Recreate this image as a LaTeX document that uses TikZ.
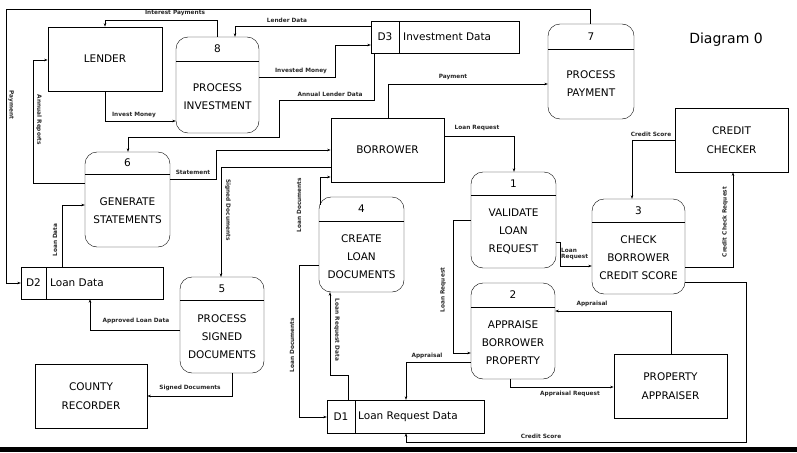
\documentclass[tikz,border=0pt]{standalone}
\usepackage{fontspec}
\setmainfont{DejaVu Sans}
\usetikzlibrary{arrows.meta}
\begin{document}
\begin{tikzpicture}[x=1pt,y=-1pt,
  ent/.style={draw,line width=0.8pt,fill=white,inner sep=0pt,align=center,font=\fontsize{10.5}{19}\selectfont},
  box/.style={draw,rectangle,inner sep=0pt},
  proc/.style={draw,rounded corners=12pt,inner sep=0pt},
  ptxt/.style={align=center,font=\fontsize{10.5}{18}\selectfont,inner sep=0pt},
  fl/.style={draw,line width=0.5pt,-{Stealth[length=3.5pt,width=2.5pt]}},
  lb/.style={font=\fontsize{5.8}{6.8}\selectfont\bfseries,inner sep=1pt,text=black!85}]
\useasboundingbox (0,0) rectangle (797,452);
\fill[black] (0,447) rectangle (797,452);
\newcommand\mkproc[8]{%
 \node[proc,minimum width={#4-#2},minimum height={#5-#3}] (#1) at ({(#2+#4)/2},{(#3+#5)/2}) {};
 \draw (#2,#6) -- (#4,#6);
 \node[ptxt] at ({(#2+#4)/2},{(#3+#6)/2}) {#7};
 \node[ptxt] at ({(#2+#4)/2},{(#6+#5)/2}) {#8};}
\newcommand\mkstore[7]{%
 \node[box,minimum width={#4-#2},minimum height={#5-#3}] (#1) at ({(#2+#4)/2},{(#3+#5)/2}) {};
 \draw (#6,#3) -- (#6,#5);
 \node[ptxt,anchor=center] at ({(#2+#6)/2},{(#3+#5)/2}) {\fontsize{10.5}{12}\selectfont D#7};}
% entities
\node[ent,minimum width=114,minimum height=64] (lender) at (105,59) {LENDER};
\node[ent,minimum width=113,minimum height=64] (borrower) at (387.5,150) {BORROWER};
\node[ent,minimum width=113,minimum height=64] (cc) at (731.5,140) {CREDIT\\CHECKER};
\node[ent,minimum width=112,minimum height=64] (county) at (91,396) {COUNTY\\RECORDER};
\node[ent,minimum width=113,minimum height=64] (pa) at (670.5,386) {PROPERTY\\APPRAISER};
\node[font=\fontsize{14}{16}\selectfont] (title) at (726,40) {Diagram 0};
% processes
\mkproc{p8}{176}{37}{259}{133}{61}{8}{PROCESS\\INVESTMENT}
\mkproc{p7}{548}{24}{634}{119}{49}{7}{PROCESS\\PAYMENT}
\mkproc{p6}{85}{152}{170}{247}{174}{6}{GENERATE\\STATEMENTS}
\mkproc{p1}{471}{172}{556}{268}{195}{1}{VALIDATE\\LOAN\\REQUEST}
\mkproc{p3}{592}{199}{685}{294}{222}{3}{CHECK\\BORROWER\\CREDIT SCORE}
\mkproc{p4}{319}{197}{404}{292}{221}{4}{CREATE\\LOAN\\DOCUMENTS}
\mkproc{p5}{180}{277}{264}{373}{300}{5}{PROCESS\\SIGNED\\DOCUMENTS}
\mkproc{p2}{471}{283}{555}{379}{307}{2}{APPRAISE\\BORROWER\\PROPERTY}
% stores
\mkstore{d3}{371}{21}{519}{53}{399}{3}
\node[ptxt,anchor=west] (d3t) at (403,37) {Investment Data};
\mkstore{d2}{21}{267}{163}{299}{46}{2}
\node[ptxt,anchor=west] (d2t) at (50,283) {Loan Data};
\mkstore{d1}{327}{400}{484}{433}{355}{1}
\node[ptxt,anchor=west] (d1t) at (358,416.5) {Loan Request Data};
% flows
\draw[fl] (p8.north -| 217,0) -- (217,20) -- (105,20) -- (lender.north -| 105,0);
\node[lb] at (175,13) {Interest Payments};
\draw[fl] (d3.west |- 0,26) -- (235,26) -- (p8.north -| 235,0);
\node[lb] at (287,20) {Lender Data};
\draw[fl] (p8.east |- 0,77) -- (335,77) -- (335,45) -- (d3.west |- 0,45);
\node[lb] at (301,71) {Invested Money};
\draw[fl] (d3.south -| 374,0) -- (374,100) -- (279,100) -- (279,137) -- (128,137) -- (p6.north -| 128,0);
\node[lb] at (330,94) {Annual Lender Data};
\draw[fl] (lender.south -| 105,0) -- (105,121) -- (p8.west |- 0,121);
\node[lb] at (134,115) {Invest Money};
\draw[fl] (p6.west |- 0,183) -- (33,183) -- (33,60) -- (lender.west |- 0,60);
\node[lb,rotate=-90] at (39,120) {Annual Reports};
\draw[fl] (p7.north -| 590,0) -- (590,9) -- (6,9) -- (6,283) -- (d2.west |- 0,283);
\node[lb,rotate=-90] at (11,105) {Payment};
\draw[fl] (borrower.north -| 388,0) -- (388,84) -- (p7.west |- 0,84);
\node[lb] at (453,77) {Payment};
\draw[fl] (borrower.east |- 0,136) -- (514,136) -- (p1.north -| 514,0);
\node[lb] at (477,128) {Loan Request};
\draw[fl] (p6.east |- 0,179) -- (216,179) -- (216,150) -- (borrower.west |- 0,150);
\node[lb] at (193,172) {Statement};
\draw[fl] (borrower.west |- 0,167) -- (221,167) -- (221,277);
\node[lb,rotate=-90] at (228,210) {Signed Documents};
\draw[fl] (320,205) -- (320,177) -- (borrower.west |- 0,177);
\node[lb,rotate=90] at (299,205) {Loan Documents};
\draw[fl] (p4.west |- 0,265) -- (299,265) -- (299,417) -- (d1.west |- 0,417);
\node[lb,rotate=90] at (292,345) {Loan Documents};
\draw[fl] (d1.north -| 348,0) -- (348,375) -- (330,375) -- (p4.south -| 330,0);
\node[lb,rotate=-90] at (337,330) {Loan Request Data};
\draw[fl] (d2.north -| 62,0) -- (62,205) -- (p6.west |- 0,205);
\node[lb,rotate=90] at (55,240) {Loan Data};
\draw[fl] (p5.west |- 0,330) -- (90,330) -- (d2.south -| 90,0);
\node[lb] at (136,321) {Approved Loan Data};
\draw[fl] (p5.south -| 232,0) -- (232,396) -- (county.east |- 0,396);
\node[lb] at (190,388) {Signed Documents};
\draw[fl] (p1.west |- 0,220) -- (453,220) -- (453,353) -- (p2.west |- 0,353);
\node[lb,rotate=90] at (443,290) {Loan Request};
\draw[fl] (p1.east |- 0,242) -- (560,242) -- (560,266) -- (p3.west |- 0,266);
\node[lb,align=left,anchor=west] at (560,254) {Loan\\Request};
\draw[fl] (cc.west |- 0,140) -- (632,140) -- (p3.north -| 632,0);
\node[lb] at (651,134) {Credit Score};
\draw[fl] (p3.east |- 0,267) -- (733,267) -- (cc.south -| 733,0);
\node[lb,rotate=90] at (725,222) {Credit Check Request};
\draw[fl] (pa.north -| 671,0) -- (671,311) -- (p2.east |- 0,311);
\node[lb] at (592,304) {Appraisal};
\draw[fl] (p2.south -| 510,0) -- (510,387) -- (pa.west |- 0,387);
\node[lb] at (570,394) {Appraisal Request};
\draw[fl] (p2.west |- 0,362) -- (406,362) -- (d1.north -| 406,0);
\node[lb] at (427,356) {Appraisal};
\draw[fl] (p3.east |- 0,282) -- (746,282) -- (746,442) -- (406,442) -- (d1.south -| 406,0);
\node[lb] at (541,436) {Credit Score};
\end{tikzpicture}
\end{document}
